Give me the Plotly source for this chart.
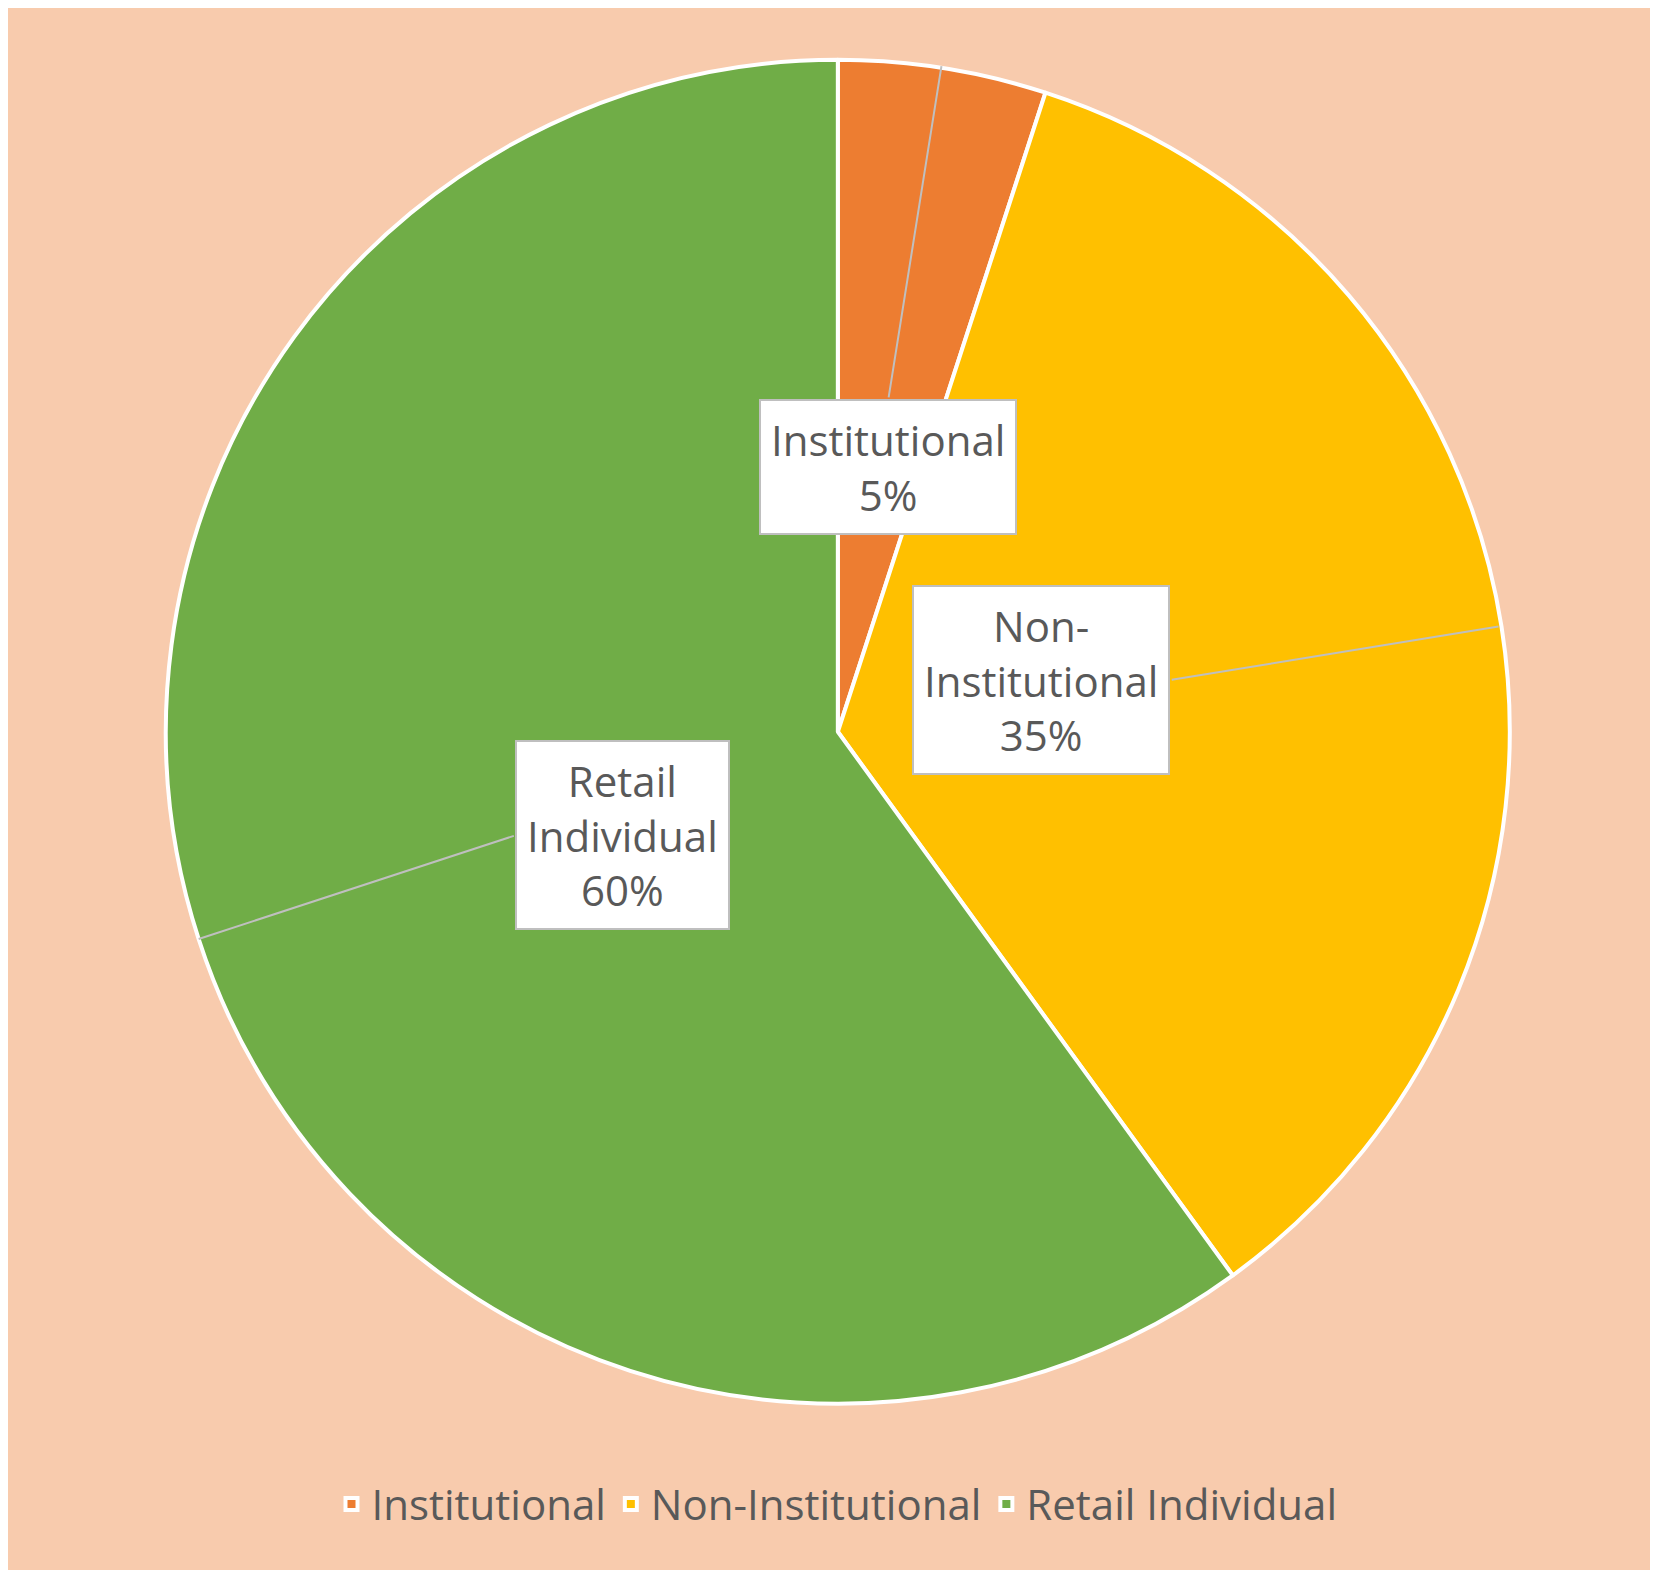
import plotly.graph_objects as go

labels = ["Institutional", "Non-Institutional", "Retail Individual"]
values = [5, 35, 60]
colors = ["#ED7D31", "#FFC000", "#70AD47"]
label_texts = ["Institutional<br>5%", "Non-<br>Institutional<br>35%", "Retail<br>Individual<br>60%"]

W, H = 1658, 1570

fig = go.Figure(go.Pie(
    labels=labels, values=values, sort=False, direction="clockwise", rotation=0,
    marker=dict(colors=colors, line=dict(color="white", width=4)),
    textinfo="none", hoverinfo="label+percent",
    domain=dict(x=[0.095, 0.906], y=[0.111, 0.967]),
))

# box centers and pointer tips (paper coords)
boxes = [(0.531, 0.751), (0.701, 0.572), (0.306, 0.473)]
tips = [(0.563, 0.963), (0.899, 0.606), (0.115, 0.407)]
for t, (bx, by), (tx, ty) in zip(label_texts, boxes, tips):
    fig.add_annotation(x=tx, y=ty, ax=(bx - tx) * W, ay=-(by - ty) * H,
                       xref="paper", yref="paper", showarrow=True, arrowhead=0,
                       arrowwidth=2, arrowcolor="#BFBFBF", text="")
    fig.add_annotation(x=bx, y=by, xref="paper", yref="paper", showarrow=False,
                       text=t, font=dict(size=42, color="#595959", family="Open Sans"),
                       bgcolor="white", bordercolor="#BFBFBF", borderwidth=2, borderpad=10)

fig.update_layout(
    width=W, height=H, paper_bgcolor="#F8CBAD", plot_bgcolor="#F8CBAD",
    margin=dict(l=0, r=0, t=0, b=0),
    font=dict(family="Open Sans", color="#595959"),
    legend=dict(orientation="h", x=0.5, xanchor="center", y=0.047, yanchor="middle",
                font=dict(size=42, color="#595959"), itemwidth=30),
)
fig.write_html("out.html")
